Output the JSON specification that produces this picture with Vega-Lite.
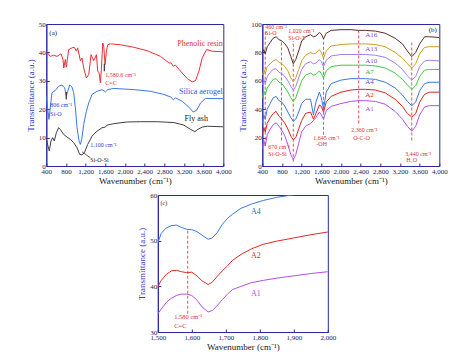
{
"$schema":"https://vega.github.io/schema/vega-lite/v6.json",
"padding":{"left":25,"top":19,"right":5,"bottom":5},
"background":"white",
"config":{"font":"Liberation Serif","view":{"stroke":"#2a2aa0","strokeWidth":1},
"axis":{"domainColor":"#2a2aa0","tickColor":"#2a2aa0","labelColor":"#1a1a50","labelFontSize":7,"titleFontSize":9,"titleFontWeight":"normal","grid":false,"tickSize":-3,"labelPadding":4,"labelFlush":false,"labelOverlap":false,"labelFont":"Liberation Serif","titleFont":"Liberation Serif"},
"axisY":{"titleColor":"#3838c8","titlePadding":3},"axisX":{"titleColor":"#202020","titlePadding":2}},
"datasets":{
"a":[
{"s":"Phenolic resin","x":400,"y":40.3},{"s":"Phenolic resin","x":481,"y":38.6},{"s":"Phenolic resin","x":549,"y":39},{"s":"Phenolic resin","x":617,"y":38.6},{"s":"Phenolic resin","x":699,"y":39.5},{"s":"Phenolic resin","x":740,"y":37.5},{"s":"Phenolic resin","x":755,"y":34.5},{"s":"Phenolic resin","x":787,"y":37.5},{"s":"Phenolic resin","x":807,"y":34.8},{"s":"Phenolic resin","x":855,"y":41},{"s":"Phenolic resin","x":923,"y":41.6},{"s":"Phenolic resin","x":970,"y":41.8},{"s":"Phenolic resin","x":1011,"y":40.4},{"s":"Phenolic resin","x":1038,"y":41.6},{"s":"Phenolic resin","x":1093,"y":37.1},{"s":"Phenolic resin","x":1127,"y":38},{"s":"Phenolic resin","x":1161,"y":34.5},{"s":"Phenolic resin","x":1215,"y":31},{"s":"Phenolic resin","x":1263,"y":32.2},{"s":"Phenolic resin","x":1310,"y":39.2},{"s":"Phenolic resin","x":1364,"y":37.1},{"s":"Phenolic resin","x":1419,"y":39.2},{"s":"Phenolic resin","x":1446,"y":33.4},{"s":"Phenolic resin","x":1473,"y":32.8},{"s":"Phenolic resin","x":1500,"y":29.3},{"s":"Phenolic resin","x":1521,"y":34.5},{"s":"Phenolic resin","x":1548,"y":43.3},{"s":"Phenolic resin","x":1568,"y":42.2},{"s":"Phenolic resin","x":1595,"y":35.7},{"s":"Phenolic resin","x":1623,"y":40.4},{"s":"Phenolic resin","x":1650,"y":42.7},{"s":"Phenolic resin","x":1704,"y":43},{"s":"Phenolic resin","x":1908,"y":42.7},{"s":"Phenolic resin","x":2180,"y":41.8},{"s":"Phenolic resin","x":2451,"y":40.6},{"s":"Phenolic resin","x":2723,"y":38.6},{"s":"Phenolic resin","x":2893,"y":36.3},{"s":"Phenolic resin","x":2940,"y":36.3},{"s":"Phenolic resin","x":2981,"y":35.1},{"s":"Phenolic resin","x":3029,"y":35.5},{"s":"Phenolic resin","x":3130,"y":33.4},{"s":"Phenolic resin","x":3266,"y":30.8},{"s":"Phenolic resin","x":3368,"y":29.6},{"s":"Phenolic resin","x":3436,"y":30.1},{"s":"Phenolic resin","x":3504,"y":33.4},{"s":"Phenolic resin","x":3572,"y":38.1},{"s":"Phenolic resin","x":3660,"y":41},{"s":"Phenolic resin","x":3776,"y":40.4},{"s":"Phenolic resin","x":4000,"y":40.2},
{"s":"Silica aerogel","x":400,"y":24.5},{"s":"Silica aerogel","x":434,"y":19.3},{"s":"Silica aerogel","x":454,"y":16.4},{"s":"Silica aerogel","x":481,"y":20.5},{"s":"Silica aerogel","x":515,"y":25.8},{"s":"Silica aerogel","x":583,"y":26.6},{"s":"Silica aerogel","x":651,"y":28.1},{"s":"Silica aerogel","x":719,"y":28.5},{"s":"Silica aerogel","x":774,"y":27.5},{"s":"Silica aerogel","x":807,"y":24.6},{"s":"Silica aerogel","x":835,"y":26.3},{"s":"Silica aerogel","x":876,"y":28.5},{"s":"Silica aerogel","x":923,"y":27.8},{"s":"Silica aerogel","x":957,"y":25.8},{"s":"Silica aerogel","x":991,"y":20.5},{"s":"Silica aerogel","x":1025,"y":13.5},{"s":"Silica aerogel","x":1066,"y":8.8},{"s":"Silica aerogel","x":1093,"y":7.6},{"s":"Silica aerogel","x":1120,"y":9.4},{"s":"Silica aerogel","x":1161,"y":14.6},{"s":"Silica aerogel","x":1215,"y":19.3},{"s":"Silica aerogel","x":1263,"y":22.2},{"s":"Silica aerogel","x":1330,"y":25.2},{"s":"Silica aerogel","x":1432,"y":26.3},{"s":"Silica aerogel","x":1534,"y":26.9},{"s":"Silica aerogel","x":1602,"y":26.1},{"s":"Silica aerogel","x":1650,"y":26.9},{"s":"Silica aerogel","x":1772,"y":27.3},{"s":"Silica aerogel","x":2180,"y":26.9},{"s":"Silica aerogel","x":2519,"y":26.3},{"s":"Silica aerogel","x":2791,"y":25.2},{"s":"Silica aerogel","x":2940,"y":24.2},{"s":"Silica aerogel","x":2981,"y":23.3},{"s":"Silica aerogel","x":3029,"y":24},{"s":"Silica aerogel","x":3164,"y":22.8},{"s":"Silica aerogel","x":3300,"y":20.7},{"s":"Silica aerogel","x":3388,"y":19},{"s":"Silica aerogel","x":3456,"y":19.6},{"s":"Silica aerogel","x":3538,"y":22.2},{"s":"Silica aerogel","x":3640,"y":23.8},{"s":"Silica aerogel","x":4000,"y":23.7},
{"s":"Fly ash","x":400,"y":9.5},{"s":"Fly ash","x":434,"y":7},{"s":"Fly ash","x":461,"y":5.3},{"s":"Fly ash","x":495,"y":8.8},{"s":"Fly ash","x":529,"y":10},{"s":"Fly ash","x":563,"y":8.8},{"s":"Fly ash","x":604,"y":11.7},{"s":"Fly ash","x":651,"y":13.5},{"s":"Fly ash","x":685,"y":12.9},{"s":"Fly ash","x":753,"y":11.1},{"s":"Fly ash","x":821,"y":10.2},{"s":"Fly ash","x":889,"y":9.4},{"s":"Fly ash","x":957,"y":8.2},{"s":"Fly ash","x":1025,"y":6.4},{"s":"Fly ash","x":1079,"y":4.1},{"s":"Fly ash","x":1127,"y":3.9},{"s":"Fly ash","x":1174,"y":4.7},{"s":"Fly ash","x":1242,"y":7.6},{"s":"Fly ash","x":1330,"y":10.5},{"s":"Fly ash","x":1432,"y":12.3},{"s":"Fly ash","x":1534,"y":13.5},{"s":"Fly ash","x":1602,"y":13.7},{"s":"Fly ash","x":1636,"y":14.4},{"s":"Fly ash","x":1772,"y":14.9},{"s":"Fly ash","x":2044,"y":15.5},{"s":"Fly ash","x":2315,"y":15.6},{"s":"Fly ash","x":2655,"y":15.6},{"s":"Fly ash","x":2994,"y":15.3},{"s":"Fly ash","x":3198,"y":14.4},{"s":"Fly ash","x":3334,"y":12.9},{"s":"Fly ash","x":3422,"y":12.1},{"s":"Fly ash","x":3483,"y":12.9},{"s":"Fly ash","x":3572,"y":13.7},{"s":"Fly ash","x":3674,"y":14},{"s":"Fly ash","x":4000,"y":13.8}
],
"b":[
{"x":400,"A16":80,"A13":64,"A10":57,"A7":48,"A4":30,"A2":22,"A1":12},
{"x":430,"A16":82,"A13":68,"A10":61,"A7":53,"A4":36,"A2":27,"A1":18},
{"x":460,"A16":79,"A13":65,"A10":58,"A7":50,"A4":33,"A2":24,"A1":14},
{"x":500,"A16":84,"A13":70,"A10":63,"A7":55,"A4":40,"A2":30,"A1":22},
{"x":560,"A16":87,"A13":72,"A10":66,"A7":58,"A4":44,"A2":34,"A1":26},
{"x":620,"A16":90,"A13":74,"A10":68,"A7":61,"A4":48,"A2":37,"A1":29},
{"x":680,"A16":91,"A13":75,"A10":68.5,"A7":61.5,"A4":49,"A2":38.5,"A1":30.5},
{"x":740,"A16":89,"A13":73,"A10":66,"A7":59,"A4":46,"A2":35,"A1":28},
{"x":800,"A16":88,"A13":72,"A10":65,"A7":58,"A4":45,"A2":33,"A1":25},
{"x":860,"A16":86,"A13":70,"A10":63,"A7":55,"A4":42,"A2":30,"A1":21},
{"x":920,"A16":83,"A13":67,"A10":60,"A7":52,"A4":38,"A2":26,"A1":15},
{"x":980,"A16":77,"A13":62,"A10":56,"A7":48,"A4":34,"A2":21,"A1":8},
{"x":1030,"A16":72,"A13":59.5,"A10":53.5,"A7":45.5,"A4":31.5,"A2":18.5,"A1":4.5},
{"x":1080,"A16":75,"A13":62,"A10":56,"A7":48,"A4":33,"A2":20,"A1":8},
{"x":1140,"A16":81,"A13":68,"A10":62,"A7":54,"A4":38,"A2":26,"A1":16},
{"x":1200,"A16":88,"A13":74,"A10":68,"A7":60,"A4":44,"A2":32,"A1":24},
{"x":1280,"A16":91,"A13":78,"A10":72,"A7":64,"A4":47,"A2":37,"A1":28},
{"x":1380,"A16":92.5,"A13":80,"A10":73.5,"A7":65.5,"A4":47,"A2":38,"A1":30},
{"x":1440,"A16":91,"A13":79,"A10":72,"A7":64,"A4":36,"A2":33,"A1":32},
{"x":1490,"A16":91.5,"A13":79.5,"A10":72.5,"A7":64.5,"A4":45,"A2":37,"A1":34},
{"x":1560,"A16":94,"A13":82,"A10":75,"A7":67,"A4":52,"A2":43,"A1":38},
{"x":1600,"A16":93,"A13":80,"A10":73.5,"A7":65,"A4":48,"A2":42,"A1":36},
{"x":1645,"A16":89.5,"A13":76,"A10":70,"A7":62,"A4":40,"A2":38,"A1":33},
{"x":1700,"A16":93.5,"A13":81,"A10":74.5,"A7":67,"A4":52,"A2":45,"A1":39},
{"x":1800,"A16":95.5,"A13":84.5,"A10":77.5,"A7":70,"A4":58,"A2":49,"A1":42},
{"x":2000,"A16":96,"A13":85.5,"A10":78.5,"A7":71,"A4":60.5,"A2":52,"A1":44},
{"x":2200,"A16":96,"A13":86,"A10":78.5,"A7":71,"A4":61.5,"A2":53.5,"A1":45.5},
{"x":2360,"A16":95.5,"A13":86,"A10":78.5,"A7":71,"A4":61.5,"A2":54,"A1":46},
{"x":2500,"A16":95.5,"A13":86,"A10":78.5,"A7":71,"A4":61.5,"A2":54,"A1":46},
{"x":2700,"A16":95,"A13":85.5,"A10":78,"A7":70.5,"A4":61,"A2":53.5,"A1":45.5},
{"x":2900,"A16":93.5,"A13":84,"A10":76.5,"A7":69,"A4":59,"A2":51.5,"A1":43.5},
{"x":3100,"A16":90,"A13":80,"A10":72.5,"A7":65.5,"A4":55,"A2":47,"A1":38.5},
{"x":3250,"A16":86,"A13":76,"A10":68,"A7":61,"A4":50,"A2":42,"A1":33},
{"x":3350,"A16":81,"A13":72,"A10":63.5,"A7":57,"A4":45.5,"A2":37,"A1":28},
{"x":3440,"A16":77,"A13":69,"A10":60.5,"A7":54,"A4":42.5,"A2":34.5,"A1":24.5},
{"x":3520,"A16":80,"A13":72,"A10":63,"A7":56.5,"A4":45,"A2":37,"A1":28},
{"x":3600,"A16":86,"A13":79,"A10":70,"A7":63,"A4":53,"A2":45,"A1":36},
{"x":3700,"A16":91,"A13":83.5,"A10":74,"A7":67.5,"A4":58,"A2":50.5,"A1":41.5},
{"x":3800,"A16":91,"A13":84,"A10":74.5,"A7":68,"A4":59,"A2":52,"A1":42.5},
{"x":4000,"A16":90.5,"A13":84,"A10":74,"A7":68,"A4":59,"A2":52,"A1":42.5}
],
"c":[
{"x":1500,"A4":49.5,"A2":39.9,"A1":34},{"x":1510,"A4":51.6,"A2":41.3,"A1":35},{"x":1525,"A4":52.8,"A2":42.6,"A1":36.5},{"x":1540,"A4":53.3,"A2":43.4,"A1":37.4},{"x":1555,"A4":53.4,"A2":43.5,"A1":38},{"x":1570,"A4":52.9,"A2":43.2,"A1":38.3},{"x":1585,"A4":52.5,"A2":43,"A1":38.3},{"x":1600,"A4":52.4,"A2":43.1,"A1":38},{"x":1615,"A4":52,"A2":42.3,"A1":37},{"x":1630,"A4":51.2,"A2":41.2,"A1":35.5},{"x":1648,"A4":50.3,"A2":40.4,"A1":34.4},{"x":1660,"A4":50.6,"A2":40.9,"A1":34.7},{"x":1675,"A4":51.8,"A2":42.2,"A1":35.8},{"x":1690,"A4":53.6,"A2":43.4,"A1":37.1},{"x":1705,"A4":54.9,"A2":44.5,"A1":38.3},{"x":1720,"A4":55.8,"A2":45.7,"A1":39.3},{"x":1745,"A4":57.1,"A2":47,"A1":40},{"x":1775,"A4":58,"A2":48.2,"A1":40.8},{"x":1810,"A4":58.8,"A2":49.2,"A1":41.3},{"x":1850,"A4":59.5,"A2":49.9,"A1":41.8},{"x":1900,"A4":60.05,"A2":50.6,"A1":42.3},{"x":1950,"A4":60.6,"A2":51.3,"A1":42.8},{"x":2000,"A4":61.1,"A2":51.9,"A1":43.2}
]
},
"resolve":{"scale":{"color":"independent"}},
"vconcat":[
{"resolve":{"scale":{"color":"independent"}},
"hconcat":[
{"width":177,"height":142,
"encoding":{
"x":{"field":"x","type":"quantitative","scale":{"domain":[400,4000],"nice":false},"axis":{"title":"Wavenumber (cm⁻¹)","values":[400,800,1200,1600,2000,2400,2800,3200,3600,4000],"format":",.0f"}},
"y":{"field":"y","type":"quantitative","scale":{"domain":[0,50],"nice":false},"axis":{"title":"Transmittance (a.u.)","values":[0,10,20,30,40,50]}}},
"layer":[
{"data":{"name":"a"},"mark":{"type":"line","strokeWidth":1,"clip":true},"encoding":{"color":{"field":"s","type":"nominal","scale":{"domain":["Phenolic resin","Silica aerogel","Fly ash"],"range":["#e8303a","#3a78e0","#404040"]},"legend":null}}},
{"data":{"values":[{"x":806,"y":23.4,"y2":26.1},{"x":1580,"y":33.4,"y2":36}]},"mark":{"type":"rule","color":"#333","strokeWidth":1.2},"encoding":{"y2":{"field":"y2"}}},
{"data":{"values":[{"x":1126,"y":5,"x2":1295,"y2":2.9}]},"mark":{"type":"rule","color":"#333","strokeWidth":0.8},"encoding":{"x2":{"field":"x2"},"y2":{"field":"y2"}}},
{"data":{"values":[{"x":461,"y":46.8,"l":"(a)"}]},"mark":{"type":"text","align":"left","fontSize":7,"color":"#222"},"encoding":{"text":{"field":"l"}}},
{"data":{"values":[{"x":3990,"y":43,"l":"Phenolic resin"}]},"mark":{"type":"text","align":"right","fontSize":8,"color":"#e8303a"},"encoding":{"text":{"field":"l"}}},
{"data":{"values":[{"x":1600,"y":32,"l":"1,580.6 cm⁻¹"},{"x":1600,"y":29.4,"l":"C=C"}]},"mark":{"type":"text","align":"left","fontSize":6,"color":"#e8303a"},"encoding":{"text":{"field":"l"}}},
{"data":{"values":[{"x":3990,"y":26,"l":"Silica aerogel"}]},"mark":{"type":"text","align":"right","fontSize":8,"color":"#3a50d8"},"encoding":{"text":{"field":"l"}}},
{"data":{"values":[{"x":481,"y":21.5,"l":"806 cm⁻¹"},{"x":481,"y":18.3,"l":"Si-O"},{"x":1295,"y":7.4,"l":"1,100 cm⁻¹"}]},"mark":{"type":"text","align":"left","fontSize":6,"color":"#3a3ac8"},"encoding":{"text":{"field":"l"}}},
{"data":{"values":[{"x":3450,"y":16.6,"l":"Fly ash"}]},"mark":{"type":"text","align":"center","fontSize":8,"color":"#222"},"encoding":{"text":{"field":"l"}}},
{"data":{"values":[{"x":1295,"y":2,"l":"Si-O-Si"}]},"mark":{"type":"text","align":"left","fontSize":6,"color":"#222"},"encoding":{"text":{"field":"l"}}}
]},
{"width":177,"height":142,
"encoding":{
"x":{"field":"x","type":"quantitative","scale":{"domain":[400,4000],"nice":false},"axis":{"title":"Wavenumber (cm⁻¹)","values":[400,800,1200,1600,2000,2400,2800,3200,3600,4000],"format":",.0f"}},
"y":{"field":"y","type":"quantitative","scale":{"domain":[0,100],"nice":false},"axis":{"title":"Transmittance (a.u.)","values":[0,20,40,60,80,100]}}},
"layer":[
{"data":{"values":[{"x":460,"y":15,"y2":95},{"x":790,"y":18,"y2":88},{"x":1030,"y":3,"y2":88},{"x":1645,"y":22,"y2":90},{"x":2360,"y":30,"y2":97},{"x":3440,"y":18,"y2":88}]},"mark":{"type":"rule","color":"#e04040","strokeDash":[3,2],"strokeWidth":0.9},"encoding":{"y2":{"field":"y2"}}},
{"data":{"name":"b"},"transform":[{"fold":["A16","A13","A10","A7","A4","A2","A1"],"as":["s","y"]}],"mark":{"type":"line","strokeWidth":1,"clip":true},"encoding":{"color":{"field":"s","type":"nominal","scale":{"domain":["A16","A13","A10","A7","A4","A2","A1"],"range":["#5a2d2d","#c8a020","#a67cf0","#40c840","#3a78e0","#e02020","#b050e8"]},"legend":null}}},
{"data":{"values":[{"x":461,"y":97.9,"l":"460 cm⁻¹"},{"x":461,"y":93.7,"l":"Si-O"},{"x":929,"y":95,"l":"1,020 cm⁻¹"},{"x":929,"y":90,"l":"Si-O-T"},{"x":522,"y":13.4,"l":"670 cm⁻¹"},{"x":522,"y":8.5,"l":"Si-O-Si"},{"x":1437,"y":19.7,"l":"1,645 cm⁻¹"},{"x":1498,"y":15.5,"l":"-OH"},{"x":2210,"y":25.4,"l":"2,360 cm⁻¹"},{"x":2250,"y":19.7,"l":"O-C-O"},{"x":3308,"y":8.5,"l":"3,440 cm⁻¹"},{"x":3328,"y":4.2,"l":"H₂O"}]},"mark":{"type":"text","align":"left","fontSize":6,"color":"#e03030"},"encoding":{"text":{"field":"l"}}},
{"data":{"values":[{"x":3950,"y":96,"l":"(b)"}]},"mark":{"type":"text","align":"right","fontSize":7,"color":"#222"},"encoding":{"text":{"field":"l"}}},
{"data":{"values":[{"x":2495,"y":92.2,"l":"A16"},{"x":2495,"y":82.6,"l":"A13"},{"x":2495,"y":73.9,"l":"A10"}]},"mark":{"type":"text","align":"left","fontSize":7,"color":"#8050d0"},"encoding":{"text":{"field":"l"}}},
{"data":{"values":[{"x":2495,"y":66.4,"l":"A7"}]},"mark":{"type":"text","align":"left","fontSize":7,"color":"#30b030"},"encoding":{"text":{"field":"l"}}},
{"data":{"values":[{"x":2495,"y":59.2,"l":"A4"}]},"mark":{"type":"text","align":"left","fontSize":7,"color":"#5050d0"},"encoding":{"text":{"field":"l"}}},
{"data":{"values":[{"x":2495,"y":49.8,"l":"A2"}]},"mark":{"type":"text","align":"left","fontSize":7,"color":"#e02020"},"encoding":{"text":{"field":"l"}}},
{"data":{"values":[{"x":2495,"y":39.9,"l":"A1"}]},"mark":{"type":"text","align":"left","fontSize":7,"color":"#a050e0"},"encoding":{"text":{"field":"l"}}}
]}
],"spacing":6},
{"width":170,"height":137,
"encoding":{
"x":{"field":"x","type":"quantitative","scale":{"domain":[1500,2000],"nice":false},"axis":{"title":"Wavenumber (cm⁻¹)","values":[1500,1600,1700,1800,1900,2000],"format":",.0f"}},
"y":{"field":"y","type":"quantitative","scale":{"domain":[30,60],"nice":false},"axis":{"title":"Transmittance (a.u.)","values":[30,40,50,60]}}},
"layer":[
{"data":{"values":[{"x":1588,"y":34,"y2":52.5}]},"mark":{"type":"rule","color":"#e04040","strokeDash":[3,2],"strokeWidth":0.9},"encoding":{"y2":{"field":"y2"}}},
{"data":{"name":"c"},"transform":[{"fold":["A4","A2","A1"],"as":["s","y"]}],"mark":{"type":"line","strokeWidth":1,"clip":true},"encoding":{"color":{"field":"s","type":"nominal","scale":{"domain":["A4","A2","A1"],"range":["#3a78e0","#e02828","#b050e8"]},"legend":null}}},
{"data":{"values":[{"x":1548,"y":33.3,"l":"1,580 cm⁻¹"},{"x":1548,"y":31.25,"l":"C=C"}]},"mark":{"type":"text","align":"left","fontSize":6.5,"color":"#e03030"},"encoding":{"text":{"field":"l"}}},
{"data":{"values":[{"x":1508,"y":58.3,"l":"(c)"}]},"mark":{"type":"text","align":"left","fontSize":6,"color":"#222"},"encoding":{"text":{"field":"l"}}},
{"data":{"values":[{"x":1774,"y":56.3,"l":"A4"}]},"mark":{"type":"text","align":"left","fontSize":8,"color":"#3a60d8"},"encoding":{"text":{"field":"l"}}},
{"data":{"values":[{"x":1774,"y":46.6,"l":"A2"}]},"mark":{"type":"text","align":"left","fontSize":8,"color":"#e02828"},"encoding":{"text":{"field":"l"}}},
{"data":{"values":[{"x":1774,"y":38.4,"l":"A1"}]},"mark":{"type":"text","align":"left","fontSize":8,"color":"#b050e8"},"encoding":{"text":{"field":"l"}}}
]}
],"spacing":4,"center":true
}
